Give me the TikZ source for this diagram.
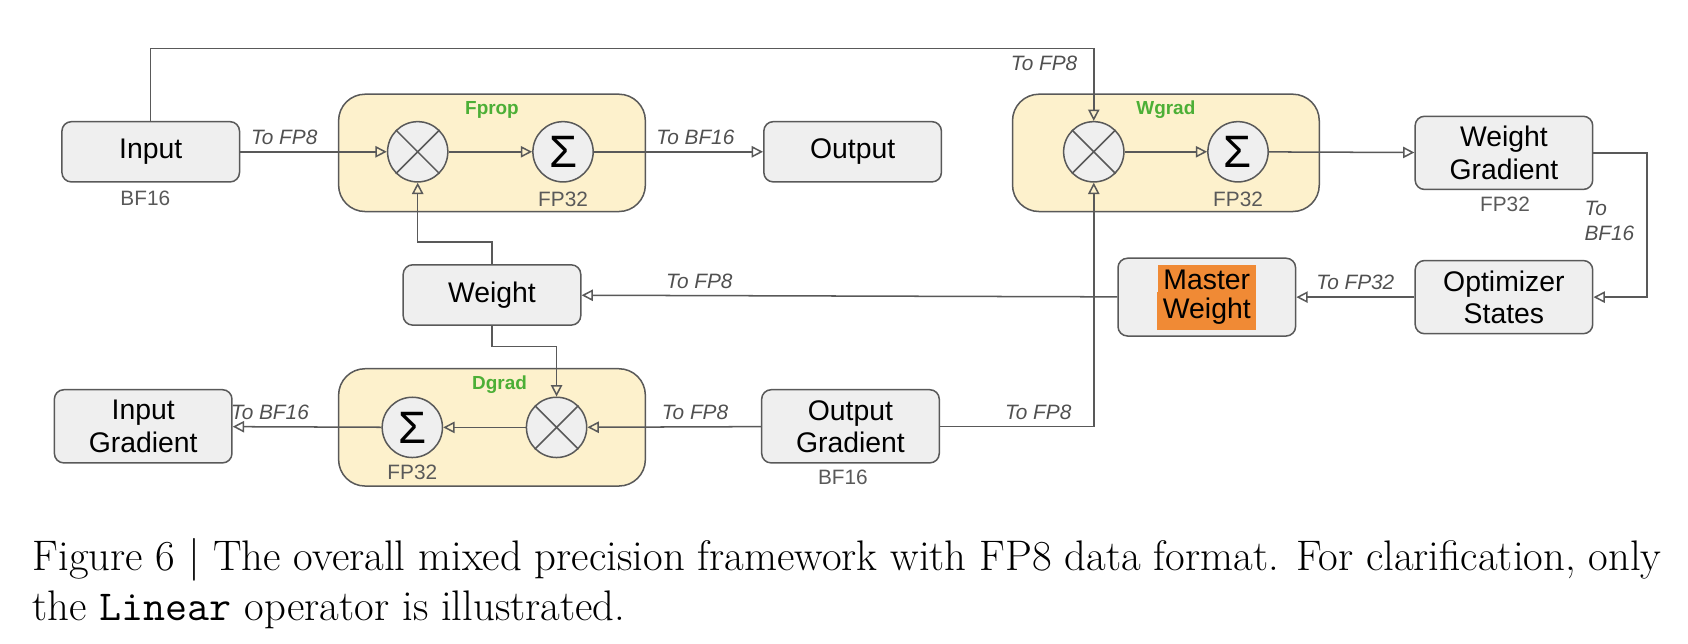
\documentclass[tikz,border=0pt]{standalone}
\usepackage{fontspec}
\setmainfont{Liberation Sans}
\newfontfamily\capfont{Latin Modern Roman}
\newfontfamily\capmono{Latin Modern Mono}
\usetikzlibrary{arrows.meta}
\definecolor{boxgray}{HTML}{EFEFEF}
\definecolor{edgegray}{HTML}{595959}
\definecolor{opyellow}{HTML}{FDF1CC}
\definecolor{labgreen}{HTML}{4CAF36}
\definecolor{mastorange}{HTML}{F08A35}
\tikzset{
  blk/.style={draw=edgegray, fill=boxgray, rounded corners=5pt, thick, minimum width=3.3cm,
    minimum height=1.12cm, align=center, font=\fontsize{15}{17}\selectfont},
  tall/.style={blk, minimum height=1.36cm},
  grp/.style={draw=edgegray, fill=opyellow, rounded corners=14pt, thick, minimum width=5.7cm, minimum height=2.18cm},
  op/.style={draw=edgegray, fill=boxgray, circle, thick, minimum size=1.12cm, inner sep=0pt,
    font=\fontsize{24}{24}\selectfont},
  flow/.style={draw=edgegray, thick, -{Triangle[open, length=6pt, width=6pt]}},
  tag/.style={font=\itshape\fontsize{11}{13}\selectfont, text=edgegray!90!black},
  fmt/.style={font=\fontsize{11}{13}\selectfont, text=edgegray},
  grpname/.style={font=\bfseries\fontsize{10}{12}\selectfont, text=labgreen}
}
\begin{document}
\begin{tikzpicture}[x=0.02cm, y=-0.02cm]
    \useasboundingbox (0,0) rectangle (1568,598);

    % operator groups
    \node[grp] (fprop) at (457,142) {};
    \node[grp] (wgrad) at (1083,142) {};
    \node[grp] (dgrad) at (457,397) {};
    \node[grpname] at (457,102) {Fprop};
    \node[grpname] at (1083,102) {Wgrad};
    \node[grpname] at (464,357) {Dgrad};

    % tensors
    \node[blk] (input) at (140,141) {Input};
    \node[blk] (output) at (792,141) {Output};
    \node[tall] (wgradout) at (1397,142) {Weight\\Gradient};
    \node[tall] (optim) at (1397,276) {Optimizer\\States};
    \node[tall] (master) at (1121,276) {\colorbox{mastorange}{Master}\\[-3pt]\colorbox{mastorange}{Weight}};
    \node[blk] (weight) at (457,274) {Weight};
    \node[tall] (ingrad) at (133,396) {Input\\Gradient};
    \node[tall] (outgrad) at (790,396) {Output\\Gradient};

    \node[fmt] at (135,184) {BF16};
    \node[fmt] at (1398,190) {FP32};
    \node[fmt] at (783,443) {BF16};

    % multiply and accumulate units
    \node[op] (fmul) at (388,141) {};
    \node[op] (fsum) at (523,141) {Σ};
    \node[op] (wmul) at (1016,141) {};
    \node[op] (wsum) at (1150,141) {Σ};
    \node[op] (dmul) at (517,397) {};
    \node[op] (dsum) at (383,397) {Σ};
    \foreach \m in {fmul, wmul, dmul} {
        \draw[edgegray, thick] (\m.45) -- (\m.225) (\m.135) -- (\m.-45);
    }
    \node[fmt] at (523,185) {FP32};
    \node[fmt] at (1150,185) {FP32};
    \node[fmt] at (383,439) {FP32};

    % forward
    \draw[flow] (input) -- node[tag, above, pos=0.3] {To FP8} (fmul);
    \draw[flow] (fmul) -- (fsum);
    \draw[flow] (fsum) -- node[tag, above, pos=0.6] {To BF16} (output);
    \draw[flow] (input.north) |- (1016,45) node[tag, below left, pos=0.995] {To FP8} -- (wmul.north);
    \draw[flow] (weight.north) |- (388,225) -- (fmul.south);

    % backward
    \draw[flow] (weight.south) |- (517,322) -- (dmul.north);
    \draw[flow] (outgrad) -- node[tag, above, pos=0.38] {To FP8} (dmul);
    \draw[flow] (dmul) -- (dsum);
    \draw[flow] (dsum) -- node[tag, above, pos=0.75] {To BF16} (ingrad);
    \draw[flow] (outgrad.east) -| node[tag, above left, pos=0.45] {To FP8} (wmul.south);
    \draw[flow] (wmul) -- (wsum);
    \draw[flow] (wsum) -- (wgradout);

    % optimizer loop
    \draw[flow] (wgradout.east) -| (1530,276) -- (optim.east);
    \node[tag, align=left] at (1495,205) {To\\BF16};
    \draw[flow] (optim) -- node[tag, above] {To FP32} (master);
    \draw[flow] (master) -- node[tag, above, pos=0.78] {To FP8} (weight);

    % caption
    \node[anchor=base west, font=\capfont\fontsize{22.6}{27}\selectfont, inner sep=0pt] (cap1) at (30,530)
        {Figure 6 | The overall mixed precision framework with FP8 data format. For clarification, only};
    \node[anchor=base west, font=\capfont\fontsize{22.6}{27}\selectfont, inner sep=0pt] (cap2) at (30,576)
        {the {\capmono Linear} operator is illustrated.};
\end{tikzpicture}
\end{document}
